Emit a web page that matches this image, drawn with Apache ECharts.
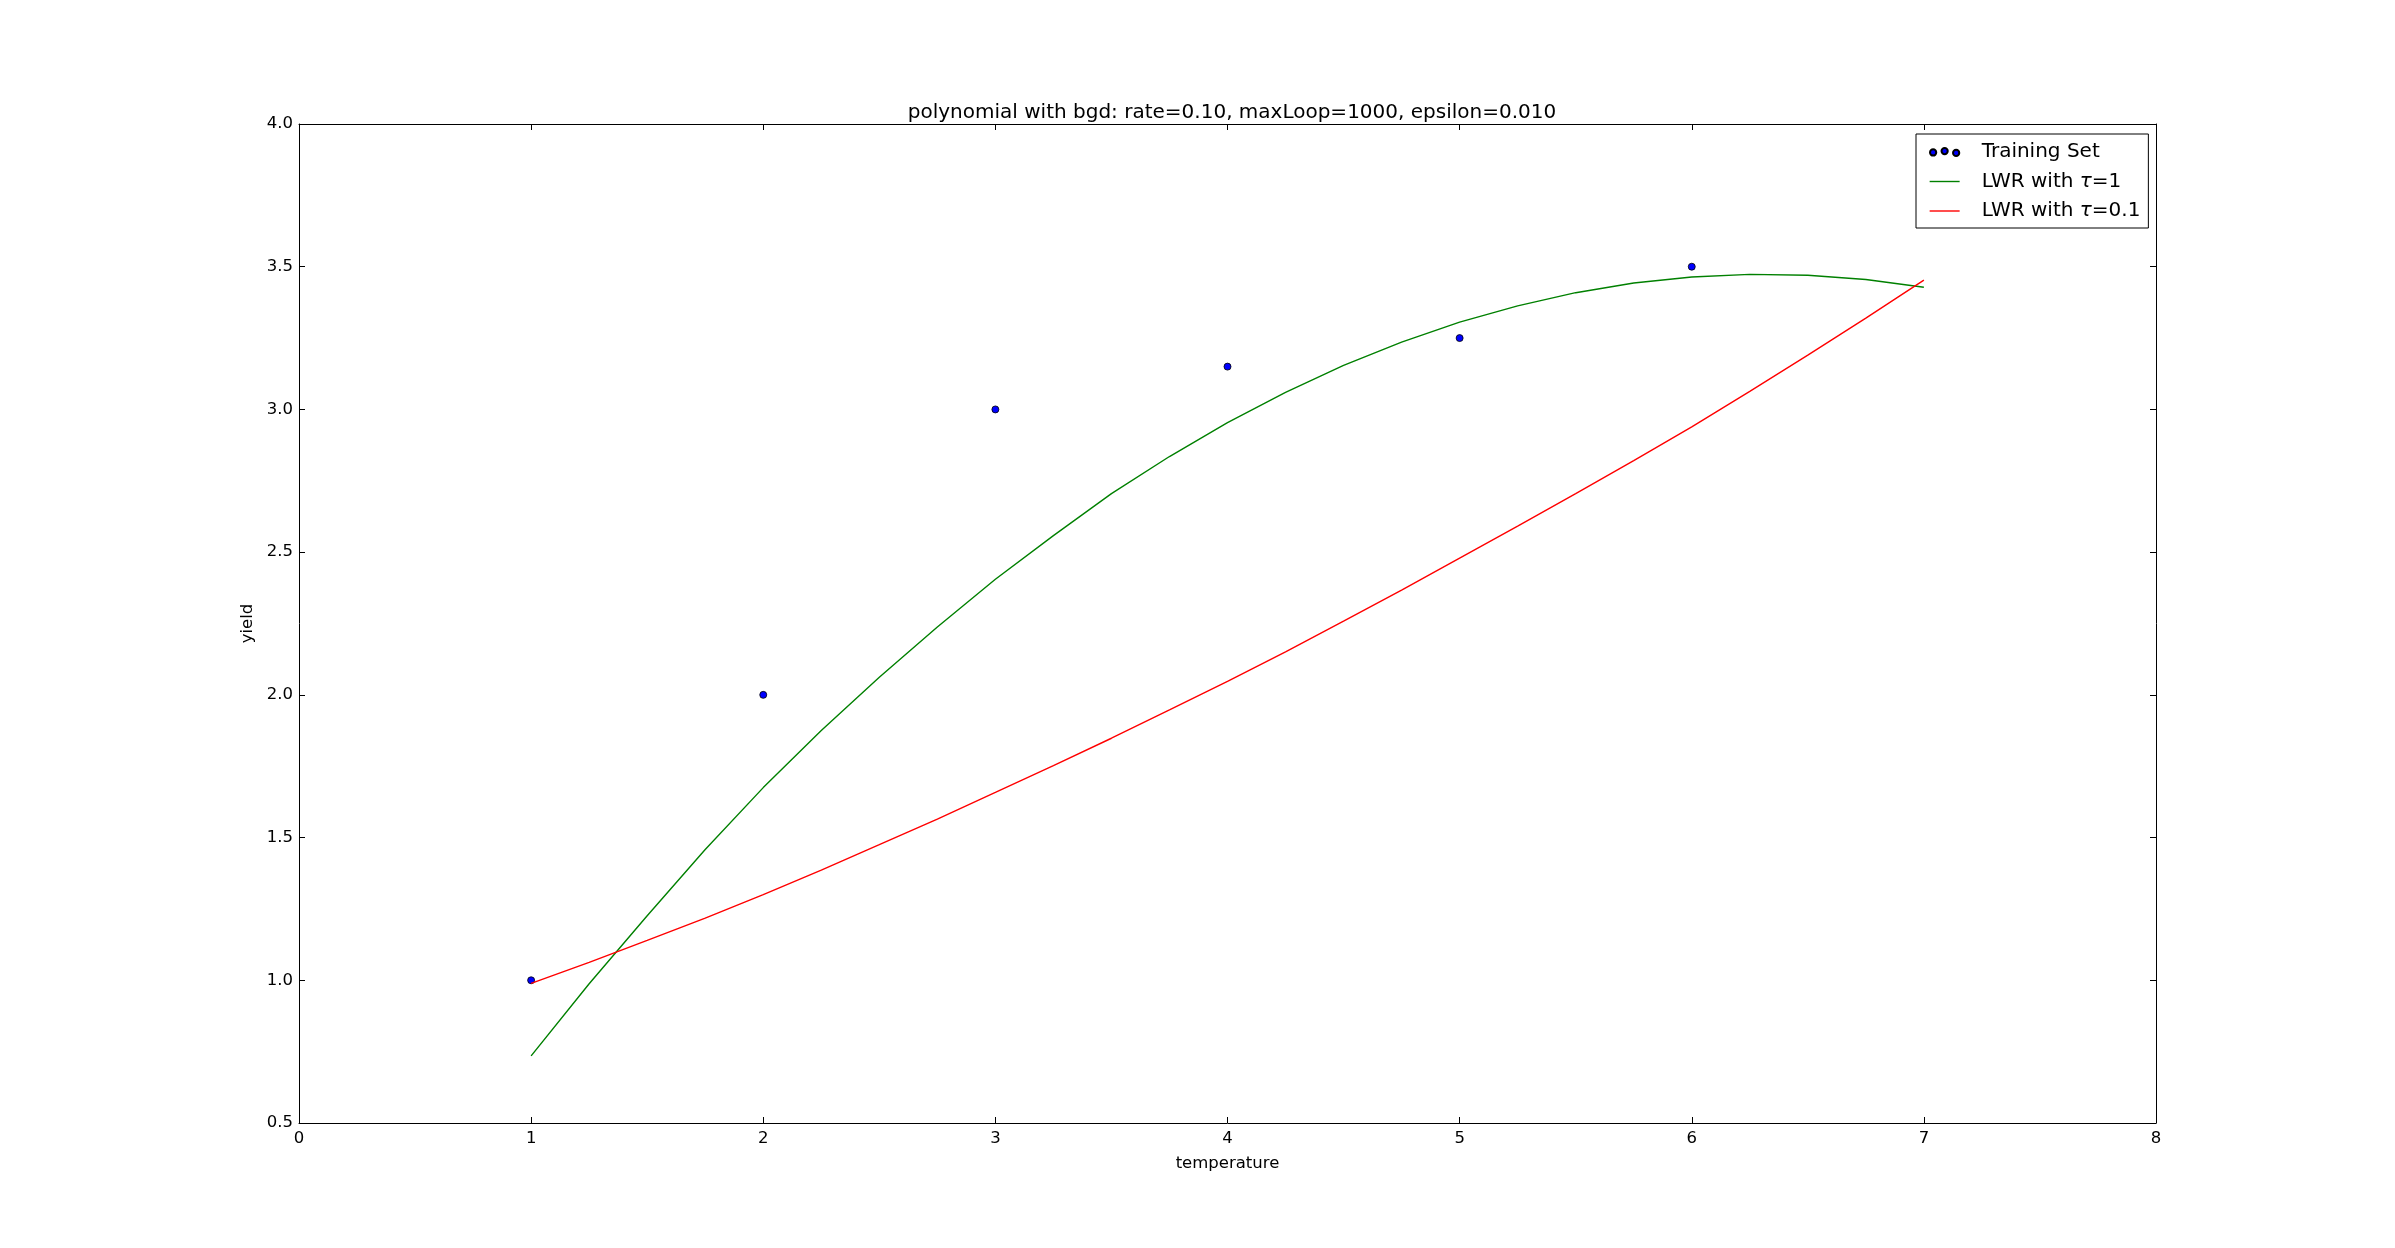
<!DOCTYPE html>
<html>
<head>
<meta charset="utf-8">
<script src="https://cdn.jsdelivr.net/npm/echarts@6/dist/echarts.min.js"></script>
<style>
html,body{margin:0;padding:0;background:#fff;}
#chart{width:2395px;height:1248px;}
</style>
</head>
<body>
<div id="chart"></div>
<script>
// ---- data ----
const titleText = 'polynomial with bgd: rate=0.10, maxLoop=1000, epsilon=0.010';
const xTickValues = [0, 1, 2, 3, 4, 5, 6, 7, 8];
const yTickValues = [0.5, 1.0, 1.5, 2.0, 2.5, 3.0, 3.5, 4.0];
const trainX = [1, 2, 3, 4, 5, 6];
const trainY = [1.0, 2.0, 3.0, 3.15, 3.25, 3.5];
const curveX = [1.0, 1.25, 1.5, 1.75, 2.0, 2.25, 2.5, 2.75, 3.0, 3.25, 3.5, 3.75, 4.0,
                4.25, 4.5, 4.75, 5.0, 5.25, 5.5, 5.75, 6.0, 6.25, 6.5, 6.75, 7.0];
const lwrTau1 = [0.735, 0.988, 1.226, 1.458, 1.675, 1.875, 2.062, 2.238, 2.405, 2.558, 2.705, 2.835, 2.954,
                 3.060, 3.154, 3.236, 3.306, 3.363, 3.409, 3.443, 3.464, 3.473, 3.470, 3.455, 3.428];
const lwrTau01 = [0.989, 1.063, 1.140, 1.218, 1.300, 1.386, 1.475, 1.565, 1.658, 1.752, 1.848, 1.947, 2.047,
                  2.151, 2.258, 2.367, 2.479, 2.591, 2.705, 2.821, 2.939, 3.063, 3.190, 3.320, 3.453];
const seriesNames = ['Training Set', 'LWR with τ=1', 'LWR with τ=0.1'];

function pairs(xs, ys) { return xs.map((x, i) => [x, ys[i]]); }

const FONT = 'DejaVu Sans';
const axisLineStyle = { show: true, onZero: false, lineStyle: { color: '#000', width: 1 } };
const tickStyle = { show: true, inside: true, length: 6, lineStyle: { color: '#000', width: 1 } };
const lineIcon = 'path://M0,3.3L30,3.3L30,4.7L0,4.7Z';
const dotsIcon = 'path://M0,4.6a3.2,3.2 0 1,0 6.4,0a3.2,3.2 0 1,0 -6.4,0Z M11.8,3.2a3.2,3.2 0 1,0 6.4,0a3.2,3.2 0 1,0 -6.4,0Z M23.6,5a3.2,3.2 0 1,0 6.4,0a3.2,3.2 0 1,0 -6.4,0Z';

const chart = echarts.init(document.getElementById('chart'), null, { renderer: 'canvas' });
chart.setOption({
  backgroundColor: '#fff',
  animation: false,
  title: {
    text: titleText,
    left: 1227,
    top: 98,
    textAlign: 'center',
    textStyle: { fontFamily: FONT, fontSize: 20, fontWeight: 'normal', color: '#000' }
  },
  grid: { left: 299, right: 239, top: 124, bottom: 125, containLabel: false },
  legend: {
    orient: 'vertical',
    left: 1916,
    top: 134,
    padding: [8, 8, 7, 13],
    itemGap: 9.5,
    itemWidth: 30,
    itemHeight: 8,
    borderColor: '#000',
    borderWidth: 1,
    borderRadius: 0,
    backgroundColor: '#fff',
    selectedMode: false,
    data: [
      { name: seriesNames[0], icon: dotsIcon },
      { name: seriesNames[1], icon: lineIcon, itemStyle: { color: '#008000', borderWidth: 0 } },
      { name: seriesNames[2], icon: lineIcon, itemStyle: { color: '#ff0000', borderWidth: 0 } }
    ],
    formatter: function (name) {
      const parts = name.split('τ');
      if (parts.length < 2) return '{a|' + name + '}';
      return '{a|' + parts[0] + '}{t|τ}{b|' + parts[1] + '}';
    },
    textStyle: {
      fontFamily: FONT, fontSize: 20, color: '#000',
      rich: {
        a: { fontFamily: FONT, fontSize: 20, color: '#000', padding: [0, 0, 0, 17] },
        t: { fontFamily: FONT, fontSize: 20, color: '#000', fontStyle: 'italic' },
        b: { fontFamily: FONT, fontSize: 20, color: '#000' }
      }
    }
  },
  xAxis: [
    {
      type: 'value', position: 'bottom', min: 0, max: 8, interval: 1,
      axisLine: axisLineStyle, axisTick: tickStyle,
      axisLabel: { color: '#000', fontFamily: FONT, fontSize: 16.5, margin: 7,
        formatter: v => xTickValues.includes(v) ? String(v) : '' },
      splitLine: { show: false },
      name: 'temperature', nameLocation: 'middle', nameGap: 32,
      nameTextStyle: { color: '#000', fontFamily: FONT, fontSize: 16.5 }
    },
    {
      type: 'value', position: 'top', min: 0, max: 8, interval: 1,
      axisLine: axisLineStyle, axisTick: tickStyle,
      axisLabel: { show: false }, splitLine: { show: false }
    }
  ],
  yAxis: [
    {
      type: 'value', position: 'left', min: 0.5, max: 4, interval: 0.5,
      axisLine: axisLineStyle, axisTick: tickStyle,
      axisLabel: { color: '#000', fontFamily: FONT, fontSize: 16.5, margin: 6,
        formatter: v => yTickValues.some(t => Math.abs(t - v) < 1e-9) ? v.toFixed(1) : '' },
      splitLine: { show: false },
      name: 'yield', nameLocation: 'middle', nameGap: 32, nameRotate: 90,
      nameTextStyle: { color: '#000', fontFamily: FONT, fontSize: 16.5 }
    },
    {
      type: 'value', position: 'right', min: 0.5, max: 4, interval: 0.5,
      axisLine: axisLineStyle, axisTick: tickStyle,
      axisLabel: { show: false }, splitLine: { show: false }
    }
  ],
  series: [
    {
      name: seriesNames[0], type: 'scatter', xAxisIndex: 0, yAxisIndex: 0,
      data: pairs(trainX, trainY),
      symbol: 'circle', symbolSize: 7, z: 2,
      itemStyle: { color: '#0000ff', borderColor: '#000', borderWidth: 0.8, opacity: 1 }
    },
    {
      name: seriesNames[1], type: 'line', xAxisIndex: 0, yAxisIndex: 0,
      data: pairs(curveX, lwrTau1),
      smooth: false, showSymbol: false, symbol: 'none', z: 3,
      itemStyle: { color: '#008000' },
      lineStyle: { color: '#008000', width: 1.4 }
    },
    {
      name: seriesNames[2], type: 'line', xAxisIndex: 0, yAxisIndex: 0,
      data: pairs(curveX, lwrTau01),
      smooth: false, showSymbol: false, symbol: 'none', z: 3,
      itemStyle: { color: '#ff0000' },
      lineStyle: { color: '#ff0000', width: 1.4 }
    }
  ]
});
</script>
</body>
</html>
